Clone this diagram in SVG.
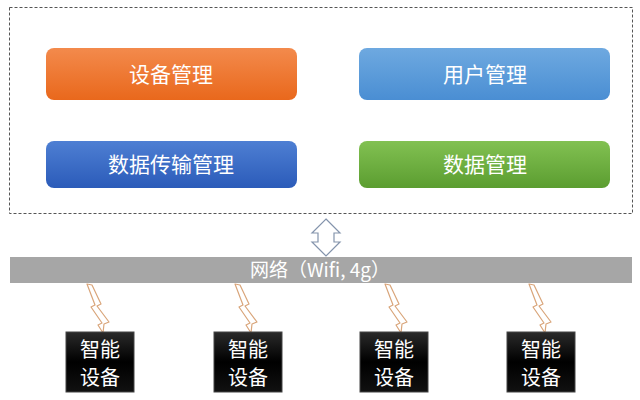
<svg xmlns="http://www.w3.org/2000/svg" width="640" height="400" viewBox="0 0 640 400">
<defs>
<linearGradient id="gO" x1="0" y1="0" x2="0" y2="1"><stop offset="0" stop-color="#f38a4c"/><stop offset="1" stop-color="#e9681c"/></linearGradient>
<linearGradient id="gB" x1="0" y1="0" x2="0" y2="1"><stop offset="0" stop-color="#6ea9e0"/><stop offset="1" stop-color="#4a8ed3"/></linearGradient>
<linearGradient id="gD" x1="0" y1="0" x2="0" y2="1"><stop offset="0" stop-color="#4e7fd3"/><stop offset="1" stop-color="#2b5bb9"/></linearGradient>
<linearGradient id="gG" x1="0" y1="0" x2="0" y2="1"><stop offset="0" stop-color="#82c152"/><stop offset="1" stop-color="#5b9d30"/></linearGradient>
<linearGradient id="gK" x1="0" y1="0" x2="0" y2="1"><stop offset="0" stop-color="#2a2a2a"/><stop offset="0.5" stop-color="#000"/><stop offset="1" stop-color="#111"/></linearGradient>
<path id="bolt" d="M0,0 L5,1 L14,20 L10,22 L22,38 L17,40 L16,49 L11,41 L15,39 L4,23 L8,21 Z"/>
</defs>
<style>
.mod text{font-family:"Noto Sans CJK SC","Liberation Sans",sans-serif;font-size:21px;fill:#fff;text-anchor:middle}
.dev rect{fill:url(#gK);stroke:#444;stroke-width:1}
.dev text{font-family:"Noto Sans CJK SC","Liberation Sans",sans-serif;font-size:20px;fill:#fff;text-anchor:middle}
.bolt{fill:#fff;stroke:#d9a57a;stroke-width:1.2;stroke-linejoin:round}
</style>
<rect x="9.5" y="7.5" width="623" height="206" fill="none" stroke="#555" stroke-width="1" stroke-dasharray="3,2"/>
<g id="n1" class="mod"><rect x="46" y="48" width="251" height="52" rx="8" fill="url(#gO)"/><text x="171" y="82">设备管理</text></g>
<g id="n2" class="mod"><rect x="359" y="48" width="251" height="52" rx="8" fill="url(#gB)"/><text x="485" y="82">用户管理</text></g>
<g id="n3" class="mod"><rect x="46" y="141" width="251" height="47" rx="8" fill="url(#gD)"/><text x="171" y="172">数据传输管理</text></g>
<g id="n4" class="mod"><rect x="359" y="141" width="251" height="47" rx="8" fill="url(#gG)"/><text x="485" y="172">数据管理</text></g>
<g id="net"><rect x="10" y="257" width="622" height="26" fill="#a6a6a6"/><text x="320" y="277" font-family="Noto Sans CJK SC,Liberation Sans,sans-serif" font-size="19" fill="#fff" text-anchor="middle">网络（Wifi, 4g）</text></g>
<g id="connectors">
<path d="M326,219 L340,233 L334,233 L334,242 L340,242 L326,256 L312,242 L318,242 L318,233 L312,233 Z" fill="#fff" stroke="#8494ac" stroke-width="1.2" stroke-linejoin="miter"/>
<use href="#bolt" class="bolt" transform="translate(87,284)"/>
<use href="#bolt" class="bolt" transform="translate(235,284)"/>
<use href="#bolt" class="bolt" transform="translate(385,284)"/>
<use href="#bolt" class="bolt" transform="translate(529,284)"/>
</g>
<g id="d1" class="dev"><rect x="66" y="332" width="68" height="60"/><text x="100" y="357">智能</text><text x="100" y="385">设备</text></g>
<g id="d2" class="dev"><rect x="214" y="332" width="68" height="60"/><text x="248" y="357">智能</text><text x="248" y="385">设备</text></g>
<g id="d3" class="dev"><rect x="360" y="332" width="68" height="60"/><text x="394" y="357">智能</text><text x="394" y="385">设备</text></g>
<g id="d4" class="dev"><rect x="507" y="332" width="68" height="60"/><text x="541" y="357">智能</text><text x="541" y="385">设备</text></g>
</svg>
